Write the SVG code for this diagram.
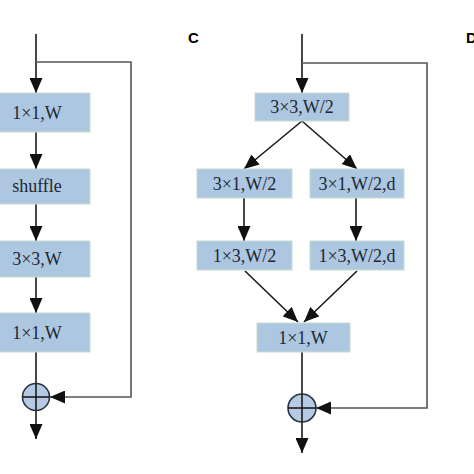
<svg xmlns="http://www.w3.org/2000/svg" width="474" height="474" viewBox="0 0 474 474">
<defs>
<marker id="ah" markerUnits="userSpaceOnUse" markerWidth="15" markerHeight="13" refX="15" refY="6.5" orient="auto"><path d="M0,0 L15,6.5 L0,13 z" fill="#111"/></marker>
<style>
.box{fill:#aec7e0;stroke:#c8dccf;stroke-width:1}
.lbl{font-family:"Liberation Serif","Times New Roman",serif;font-size:18px;fill:#1c2733;text-anchor:middle}
.ln{stroke:#1a1a1a;stroke-width:1.6;fill:none}
.by{stroke:#555;stroke-width:1.6;fill:none}
.sum{fill:#b4cbe3;stroke:#2a3440;stroke-width:1.6}
.panel{font-family:"Liberation Sans",Arial,sans-serif;font-size:15px;font-weight:bold;fill:#000}
</style>
</defs>
<rect width="474" height="474" fill="#fff"/>
<text class="panel" x="188" y="43">C</text>
<text class="panel" x="466" y="43">D</text>
<g id="connectors">
<line class="ln" x1="36" y1="34" x2="36" y2="93" marker-end="url(#ah)"/>
<line class="ln" x1="36" y1="132" x2="36" y2="169" marker-end="url(#ah)"/>
<line class="ln" x1="36" y1="204" x2="36" y2="241" marker-end="url(#ah)"/>
<line class="ln" x1="36" y1="277" x2="36" y2="313" marker-end="url(#ah)"/>
<line class="ln" x1="36" y1="352" x2="36" y2="384"/>
<line class="ln" x1="36" y1="410" x2="36" y2="439" marker-end="url(#ah)"/>
<polyline class="by" points="36,62 131,62 131,397 50,397" marker-end="url(#ah)"/>
<line class="ln" x1="302" y1="34" x2="302" y2="93" marker-end="url(#ah)"/>
<line class="ln" x1="302" y1="121" x2="244" y2="169" marker-end="url(#ah)"/>
<line class="ln" x1="302" y1="121" x2="357" y2="169" marker-end="url(#ah)"/>
<line class="ln" x1="244" y1="198" x2="244" y2="241" marker-end="url(#ah)"/>
<line class="ln" x1="356" y1="198" x2="356" y2="241" marker-end="url(#ah)"/>
<line class="ln" x1="245" y1="271" x2="298" y2="322" marker-end="url(#ah)"/>
<line class="ln" x1="357" y1="271" x2="304" y2="322" marker-end="url(#ah)"/>
<line class="ln" x1="302" y1="352" x2="302" y2="394"/>
<line class="ln" x1="302" y1="422" x2="302" y2="453" marker-end="url(#ah)"/>
<polyline class="by" points="302,63 427,63 427,408 316,408" marker-end="url(#ah)"/>
</g>
<g id="b1"><rect class="box" x="-18" y="93" width="108" height="39"/><text class="lbl" x="37" y="119">1×1,W</text></g>
<g id="b2"><rect class="box" x="-18" y="169" width="108" height="35"/><text class="lbl" x="37" y="192">shuffle</text></g>
<g id="b3"><rect class="box" x="-18" y="241" width="108" height="36"/><text class="lbl" x="37" y="265">3×3,W</text></g>
<g id="b4"><rect class="box" x="-18" y="313" width="108" height="39"/><text class="lbl" x="37" y="339">1×1,W</text></g>
<g id="s1"><circle class="sum" cx="36" cy="397" r="13.5"/><line class="ln" x1="22.5" y1="397" x2="49.5" y2="397"/><line class="ln" x1="36" y1="383.5" x2="36" y2="410.5"/></g>
<g id="c1"><rect class="box" x="255" y="93" width="94" height="28"/><text class="lbl" x="302" y="113">3×3,W/2</text></g>
<g id="c2"><rect class="box" x="197" y="169" width="95" height="29"/><text class="lbl" x="244.5" y="190">3×1,W/2</text></g>
<g id="c3"><rect class="box" x="310" y="169" width="94" height="29"/><text class="lbl" x="357" y="190">3×1,W/2,d</text></g>
<g id="c4"><rect class="box" x="197" y="241" width="95" height="29"/><text class="lbl" x="244.5" y="262">1×3,W/2</text></g>
<g id="c5"><rect class="box" x="310" y="241" width="94" height="29"/><text class="lbl" x="357" y="262">1×3,W/2,d</text></g>
<g id="c6"><rect class="box" x="257" y="323" width="93" height="29"/><text class="lbl" x="303" y="344">1×1,W</text></g>
<g id="s2"><circle class="sum" cx="302" cy="408" r="14"/><line class="ln" x1="288" y1="408" x2="316" y2="408"/><line class="ln" x1="302" y1="394" x2="302" y2="422"/></g>
</svg>
